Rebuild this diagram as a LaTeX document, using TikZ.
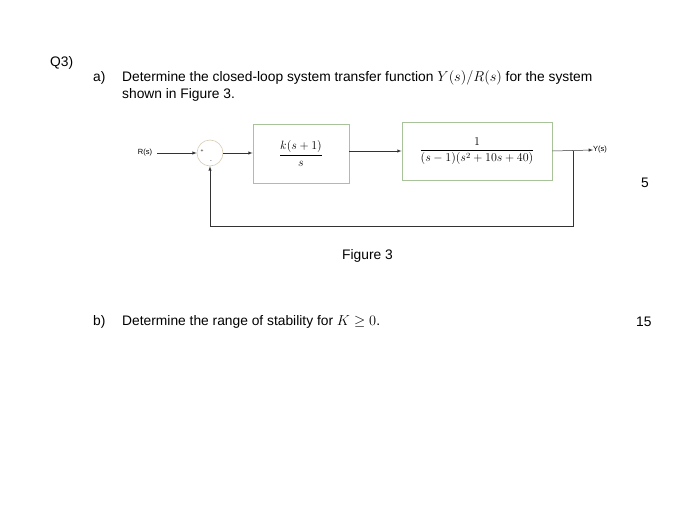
\documentclass[tikz,border=0pt]{standalone}
\usepackage{fontspec}
\setmainfont{Liberation Sans}
\definecolor{bx}{HTML}{A8C29A}
\definecolor{cr}{HTML}{D8CCB4}
\begin{document}
\begin{tikzpicture}[x=1pt,y=-1pt,
  blk/.style={draw=bx,line width=0.8pt,minimum width=#1,inner sep=0pt},
  lbl/.style={font=\fontsize{13.8}{15}\selectfont,anchor=west,inner sep=0pt},
  sm/.style={font=\fontsize{7.5}{8}\selectfont,inner sep=0pt},
  arr/.style={-latex,line width=0.5pt,draw=black!80}]
\useasboundingbox (0,0) rectangle (700,524);
\node[lbl] (q) at (50,63) {Q3)};
\node[lbl] (a) at (93,78) {a)};
\node[lbl] (ta) at (122,78) {Determine the closed-loop system transfer function $Y(s)/R(s)$ for the system};
\node[lbl] (ta2) at (122,95) {shown in Figure 3.};
\node[sm] (r) at (145,153) {R(s)};
\node[draw=cr,circle,minimum size=26pt,inner sep=0pt,line width=0.6pt] (c) at (210,153) {};
\node[font=\fontsize{5}{5}\selectfont] at (202,151) {+};
\node[font=\fontsize{5}{5}\selectfont] at (211,162) {-};
\node[blk=96pt,minimum height=59pt] (b1) at (301,153.5) {\fontsize{12}{13}\selectfont$\displaystyle\frac{k(s+1)}{s}$};
\node[blk=150pt,minimum height=58pt] (b2) at (477,151) {\fontsize{12}{13}\selectfont$\displaystyle\frac{1}{(s-1)(s^2+10s+40)}$};
\node[sm,anchor=west] (y) at (593,150) {Y(s)};
\coordinate (br) at (573,151);
\coordinate (bl) at (573,226);
\coordinate (bc) at (210,226);
\draw[arr] (r.east) ++(5,0) -- (c.west);
\draw[arr] (c.east) -- (b1.west|-c.east);
\draw[arr] (b1.east|-b2.west) -- (b2.west);
\draw[arr] (b2.east) -- (y.west);
\draw[arr] (br) -- (bl) -- (bc) -- (c.south);
\node[lbl] (five) at (641,183) {5};
\node[lbl] (fig) at (342,256) {Figure 3};
\node[lbl] (b) at (93,322) {b)};
\node[lbl] (tb) at (122,322) {Determine the range of stability for $K\geq 0$.};
\node[lbl] (ft) at (636,322) {15};
\end{tikzpicture}
\end{document}
